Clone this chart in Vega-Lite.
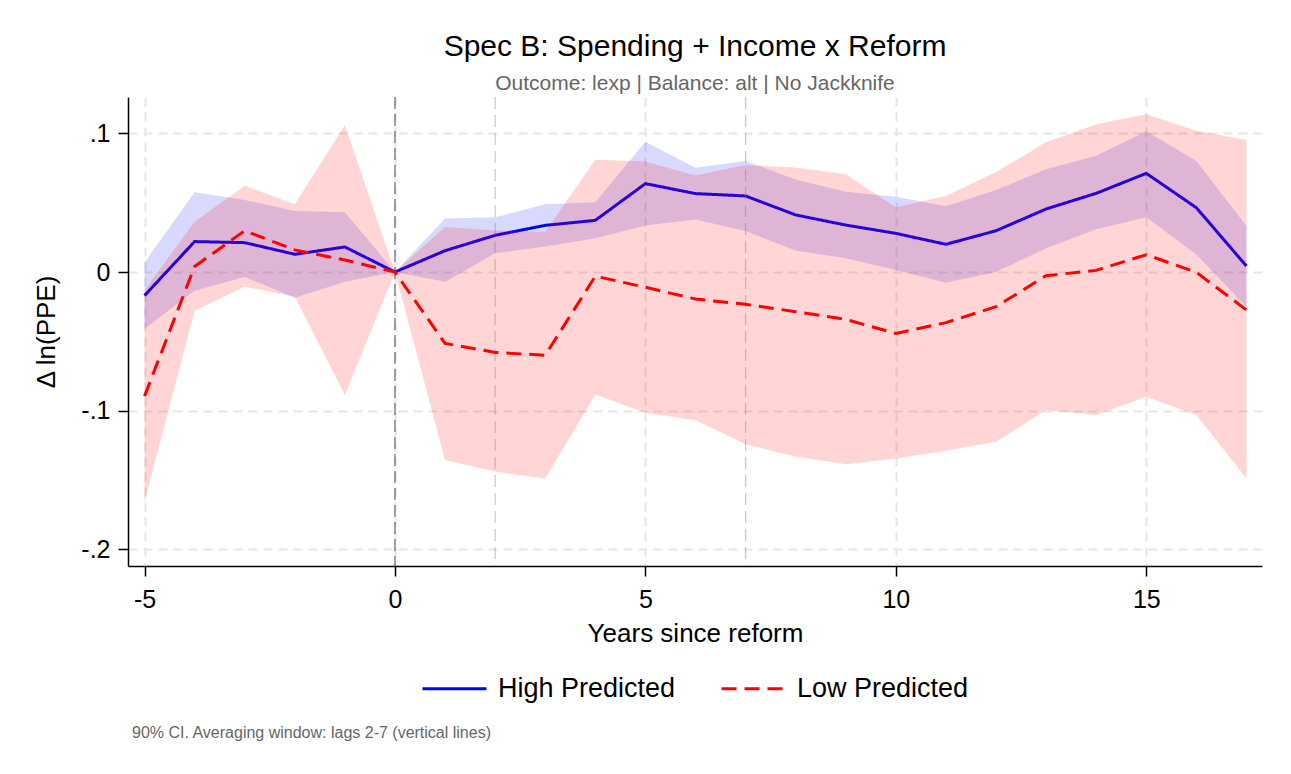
{
  "$schema": "https://vega.github.io/schema/vega-lite/v6.json",
  "background": "white",
  "padding": {"left": 33, "top": 32, "right": 5, "bottom": 5},
  "config": {
    "font": "Liberation Sans",
    "view": {"stroke": null},
    "concat": {"spacing": 23},
    "legend": {"layout": {"bottom": {"anchor": "middle"}}}
  },
  "resolve": {"legend": {"color": "independent", "strokeDash": "independent"}},
  "datasets": {
    "est": [
      {"x": -5, "series": "High Predicted", "est": -0.017, "lo": -0.041, "hi": 0.007},
      {"x": -4, "series": "High Predicted", "est": 0.022, "lo": -0.0135, "hi": 0.0575},
      {"x": -3, "series": "High Predicted", "est": 0.0212, "lo": -0.0036, "hi": 0.052},
      {"x": -2, "series": "High Predicted", "est": 0.0128, "lo": -0.0185, "hi": 0.044},
      {"x": -1, "series": "High Predicted", "est": 0.0181, "lo": -0.007, "hi": 0.0431},
      {"x": 0, "series": "High Predicted", "est": 0, "lo": 0, "hi": 0},
      {"x": 1, "series": "High Predicted", "est": 0.0154, "lo": -0.007, "hi": 0.0387},
      {"x": 2, "series": "High Predicted", "est": 0.0265, "lo": 0.0135, "hi": 0.0395},
      {"x": 3, "series": "High Predicted", "est": 0.0337, "lo": 0.0185, "hi": 0.0489},
      {"x": 4, "series": "High Predicted", "est": 0.0373, "lo": 0.0243, "hi": 0.0503},
      {"x": 5, "series": "High Predicted", "est": 0.0638, "lo": 0.0335, "hi": 0.0941},
      {"x": 6, "series": "High Predicted", "est": 0.0566, "lo": 0.0379, "hi": 0.0753},
      {"x": 7, "series": "High Predicted", "est": 0.0549, "lo": 0.0296, "hi": 0.0802},
      {"x": 8, "series": "High Predicted", "est": 0.0412, "lo": 0.0156, "hi": 0.0668},
      {"x": 9, "series": "High Predicted", "est": 0.0339, "lo": 0.0099, "hi": 0.0579},
      {"x": 10, "series": "High Predicted", "est": 0.0279, "lo": 0.0014, "hi": 0.0544},
      {"x": 11, "series": "High Predicted", "est": 0.020, "lo": -0.0077, "hi": 0.0474},
      {"x": 12, "series": "High Predicted", "est": 0.0298, "lo": 0.0, "hi": 0.0592},
      {"x": 13, "series": "High Predicted", "est": 0.0455, "lo": 0.0171, "hi": 0.0741},
      {"x": 14, "series": "High Predicted", "est": 0.0568, "lo": 0.0308, "hi": 0.084},
      {"x": 15, "series": "High Predicted", "est": 0.0712, "lo": 0.0395, "hi": 0.1016},
      {"x": 16, "series": "High Predicted", "est": 0.0464, "lo": 0.0127, "hi": 0.0802},
      {"x": 17, "series": "High Predicted", "est": 0.0043, "lo": -0.025, "hi": 0.0332},
      {"x": -5, "series": "Low Predicted", "est": -0.0895, "lo": -0.166, "hi": -0.013},
      {"x": -4, "series": "Low Predicted", "est": 0.004, "lo": -0.0279, "hi": 0.0363},
      {"x": -3, "series": "Low Predicted", "est": 0.0298, "lo": -0.0106, "hi": 0.0623},
      {"x": -2, "series": "Low Predicted", "est": 0.016, "lo": -0.0178, "hi": 0.0489},
      {"x": -1, "series": "Low Predicted", "est": 0.0087, "lo": -0.0888, "hi": 0.106},
      {"x": 0, "series": "Low Predicted", "est": 0, "lo": 0, "hi": 0},
      {"x": 1, "series": "Low Predicted", "est": -0.0515, "lo": -0.1357, "hi": 0.0325},
      {"x": 2, "series": "Low Predicted", "est": -0.058, "lo": -0.144, "hi": 0.030},
      {"x": 3, "series": "Low Predicted", "est": -0.060, "lo": -0.149, "hi": 0.029},
      {"x": 4, "series": "Low Predicted", "est": -0.003, "lo": -0.0883, "hi": 0.0811},
      {"x": 5, "series": "Low Predicted", "est": -0.011, "lo": -0.1015, "hi": 0.0797},
      {"x": 6, "series": "Low Predicted", "est": -0.0195, "lo": -0.1069, "hi": 0.0696},
      {"x": 7, "series": "Low Predicted", "est": -0.0233, "lo": -0.1242, "hi": 0.0772},
      {"x": 8, "series": "Low Predicted", "est": -0.0286, "lo": -0.1333, "hi": 0.0755},
      {"x": 9, "series": "Low Predicted", "est": -0.0342, "lo": -0.1386, "hi": 0.0705},
      {"x": 10, "series": "Low Predicted", "est": -0.0443, "lo": -0.1345, "hi": 0.0467},
      {"x": 11, "series": "Low Predicted", "est": -0.0365, "lo": -0.129, "hi": 0.0549},
      {"x": 12, "series": "Low Predicted", "est": -0.025, "lo": -0.1225, "hi": 0.0722},
      {"x": 13, "series": "Low Predicted", "est": -0.0026, "lo": -0.0996, "hi": 0.0936},
      {"x": 14, "series": "Low Predicted", "est": 0.0012, "lo": -0.1032, "hi": 0.1066},
      {"x": 15, "series": "Low Predicted", "est": 0.0125, "lo": -0.090, "hi": 0.1138},
      {"x": 16, "series": "Low Predicted", "est": -0.0002, "lo": -0.1032, "hi": 0.102},
      {"x": 17, "series": "Low Predicted", "est": -0.0274, "lo": -0.149, "hi": 0.0953}
    ],
    "vlines": [
      {"x": 0, "kind": "zero"},
      {"x": 2, "kind": "window"},
      {"x": 7, "kind": "window"}
    ]
  },
  "vconcat": [
    {
      "width": 1134,
      "height": 469,
      "title": {
        "text": "Spec B: Spending + Income x Reform",
        "subtitle": "Outcome: lexp | Balance: alt | No Jackknife",
        "fontSize": 30,
        "fontWeight": "normal",
        "color": "#000000",
        "subtitleFontSize": 21,
        "subtitleColor": "#666666",
        "subtitlePadding": 11,
        "anchor": "middle",
        "frame": "group",
        "offset": 2
      },
      "layer": [
        {
          "data": {"name": "est"},
          "transform": [{"filter": "datum.series == 'High Predicted'"}],
          "mark": {"type": "area", "color": "#0000ff", "opacity": 0.15},
          "encoding": {
            "x": {
              "field": "x", "type": "quantitative",
              "scale": {"domain": [-5.33, 17.31], "nice": false, "zero": false},
              "axis": {
                "values": [-5, 0, 5, 10, 15],
                "labelExpr": "datum.value < 0 ? '-' + format(-datum.value, 'd') : format(datum.value, 'd')",
                "title": "Years since reform",
                "grid": true, "gridDash": [9, 6], "gridColor": "#e6e6e6", "gridWidth": 2,
                "tickSize": 10, "tickColor": "#000000", "tickWidth": 1.5,
                "domainColor": "#000000", "domainWidth": 1.5,
                "labelFontSize": 25, "labelColor": "#000000", "labelPadding": 11, "labelFlush": false,
                "titleFontSize": 26, "titleFontWeight": "normal", "titleColor": "#000000", "titlePadding": 8
              }
            },
            "y": {
              "field": "lo", "type": "quantitative",
              "scale": {"domain": [-0.2121, 0.1263], "nice": false, "zero": false},
              "axis": {
                "values": [-0.2, -0.1, 0, 0.1],
                "labelExpr": "datum.value == 0 ? '0' : (datum.value < 0 ? '-' : '') + replace(format(abs(datum.value), '.1f'), '0.', '.')",
                "title": "Δ ln(PPE)",
                "grid": true, "gridDash": [9, 6], "gridColor": "#e6e6e6", "gridWidth": 2,
                "tickSize": 10, "tickColor": "#000000", "tickWidth": 1.5,
                "domainColor": "#000000", "domainWidth": 1.5,
                "labelFontSize": 25, "labelColor": "#000000", "labelPadding": 8,
                "titleFontSize": 26, "titleFontWeight": "normal", "titleColor": "#000000", "titlePadding": 21
              }
            },
            "y2": {"field": "hi"}
          }
        },
        {
          "data": {"name": "est"},
          "transform": [{"filter": "datum.series == 'High Predicted'"}],
          "mark": {"type": "line", "strokeWidth": 3},
          "encoding": {
            "x": {"field": "x", "type": "quantitative"},
            "y": {"field": "est", "type": "quantitative"},
            "color": {
              "field": "series", "type": "nominal",
              "scale": {"domain": ["High Predicted", "Low Predicted"], "range": ["#0000ff", "#ff0000"]},
              "legend": {
                "orient": "bottom", "direction": "horizontal", "title": null,
                "labelFontSize": 27, "labelColor": "#000000", "labelLimit": 400,
                "symbolType": "stroke", "symbolSize": 4096, "symbolStrokeWidth": 3,
                "labelOffset": 10, "columnPadding": 39, "offset": 9
              }
            },
            "strokeDash": {
              "field": "series", "type": "nominal",
              "scale": {"domain": ["High Predicted", "Low Predicted"], "range": [[1, 0], [15, 8]]},
              "legend": {
                "orient": "bottom", "direction": "horizontal", "title": null,
                "labelFontSize": 27, "labelColor": "#000000", "labelLimit": 400,
                "symbolType": "stroke", "symbolSize": 4096, "symbolStrokeWidth": 3,
                "labelOffset": 10, "columnPadding": 39, "offset": 9
              }
            }
          }
        },
        {
          "data": {"name": "est"},
          "transform": [{"filter": "datum.series == 'Low Predicted'"}],
          "mark": {"type": "area", "color": "#ff0000", "opacity": 0.165},
          "encoding": {
            "x": {"field": "x", "type": "quantitative"},
            "y": {"field": "lo", "type": "quantitative"},
            "y2": {"field": "hi"}
          }
        },
        {
          "data": {"name": "vlines"},
          "transform": [{"filter": "datum.kind == 'zero'"}],
          "mark": {"type": "rule", "color": "#555555", "opacity": 0.55, "strokeWidth": 2, "strokeDash": [12, 5]},
          "encoding": {"x": {"field": "x", "type": "quantitative"}}
        },
        {
          "data": {"name": "vlines"},
          "transform": [{"filter": "datum.kind == 'window'"}],
          "mark": {"type": "rule", "color": "#777777", "opacity": 0.4, "strokeWidth": 1.2, "strokeDash": [12, 6]},
          "encoding": {"x": {"field": "x", "type": "quantitative"}}
        },
        {
          "mark": {"type": "rule", "color": "#555555", "opacity": 0.55, "strokeWidth": 2, "strokeDash": [10, 6]},
          "encoding": {"y": {"datum": 0}}
        },
        {
          "data": {"name": "est"},
          "transform": [{"filter": "datum.series == 'Low Predicted'"}],
          "mark": {"type": "line", "strokeWidth": 3},
          "encoding": {
            "x": {"field": "x", "type": "quantitative"},
            "y": {"field": "est", "type": "quantitative"},
            "color": {"field": "series", "type": "nominal"},
            "strokeDash": {"field": "series", "type": "nominal"}
          }
        }
      ]
    },
    {
      "width": 8,
      "height": 10,
      "data": {"values": [{"note": "90% CI. Averaging window: lags 2-7 (vertical lines)"}]},
      "mark": {"type": "text", "align": "left", "baseline": "middle", "fontSize": 16, "color": "#666666"},
      "encoding": {"text": {"field": "note", "type": "nominal"}}
    }
  ]
}
